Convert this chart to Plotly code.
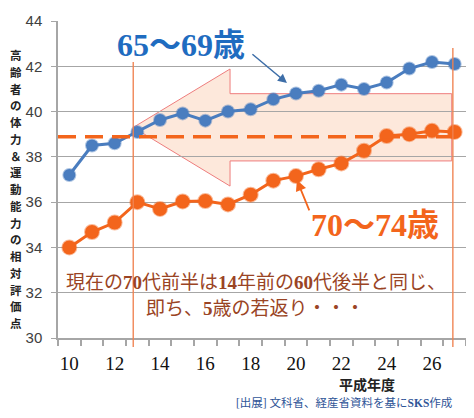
import plotly.graph_objects as go

years = list(range(10, 28))
tick_years = [10, 12, 14, 16, 18, 20, 22, 24, 26]
age_65_69 = [37.2, 38.5, 38.6, 39.1, 39.63, 39.92, 39.6, 40.0, 40.1, 40.54,
             40.8, 40.92, 41.19, 41.0, 41.28, 41.9, 42.19, 42.1]
age_70_74 = [34.0, 34.68, 35.1, 36.0, 35.7, 36.03, 36.05, 35.9, 36.33, 36.95,
             37.15, 37.45, 37.71, 38.27, 38.92, 39.0, 39.15, 39.1]
reference_level = 38.89
y_title = "高齢者の体力＆運動能力の相対評価点"

BLUE = "#4a7dbf"
ORANGE = "#f3651c"
BROWN = "#9a4424"

fig = go.Figure()

fig.add_trace(go.Scatter(
    x=years, y=age_65_69, mode="lines+markers",
    line=dict(color=BLUE, width=3),
    marker=dict(size=12, color=BLUE, line=dict(color="rgba(74,125,191,0.45)", width=2)),
    showlegend=False, hoverinfo="skip"))
fig.add_trace(go.Scatter(
    x=years, y=age_70_74, mode="lines+markers",
    line=dict(color=ORANGE, width=3),
    marker=dict(size=14, color=ORANGE, line=dict(color="rgba(243,101,28,0.45)", width=2)),
    showlegend=False, hoverinfo="skip"))

shapes = [
    dict(type="path", xref="x", yref="y", layer="below",
         path="M 26.87,40.79 L 17.09,40.79 L 17.09,41.88 L 12.82,39.30 "
              "L 17.09,36.71 L 17.09,37.82 L 26.87,37.82 Z",
         fillcolor="rgba(251,214,190,0.55)", line=dict(color="#ee7d7d", width=1)),
    dict(type="line", xref="x", yref="y", x0=9.5, x1=27.0,
         y0=reference_level, y1=reference_level,
         line=dict(color=ORANGE, width=3.5, dash="18px,9px")),
    dict(type="line", xref="x", yref="paper", x0=12.82, x1=12.82, y0=-0.028, y1=0.871,
         line=dict(color="rgba(240,130,80,0.9)", width=1.5)),
    dict(type="line", xref="x", yref="paper", x0=26.92, x1=26.92, y0=-0.028, y1=0.915,
         line=dict(color="rgba(240,130,80,0.9)", width=1.5)),
]

serif_num = lambda s: f"<span style='font-family:Liberation Serif'><b>{s}</b></span>"

annotations = [
    dict(x=14.93, y=42.94, xref="x", yref="y", showarrow=False,
         text="<b>65～69歳</b>",
         font=dict(family="Liberation Serif, Noto Sans CJK JP", size=32, color="#1f6cc0")),
    dict(x=19.6, y=41.26, xref="x", yref="y", ax=-36, ay=-30, text="",
         showarrow=True, arrowhead=2, arrowsize=1.2, arrowwidth=1.5, arrowcolor="#3d6ea8"),
    dict(x=23.48, y=34.99, xref="x", yref="y", showarrow=False,
         text="<b>70～74歳</b>",
         font=dict(family="Liberation Serif, Noto Sans CJK JP", size=32, color=ORANGE)),
    dict(x=20.04, y=36.98, xref="x", yref="y", ax=13, ay=32, text="",
         showarrow=True, arrowhead=2, arrowsize=1.2, arrowwidth=1.8, arrowcolor=ORANGE),
    dict(x=18.24, y=32.56, xref="x", yref="y", showarrow=False,
         text="現在の" + serif_num("70") + "代前半は" + serif_num("14") + "年前の"
              + serif_num("60") + "代後半と同じ、",
         font=dict(family="Noto Sans CJK JP", size=19, color=BROWN)),
    dict(x=18.2, y=31.37, xref="x", yref="y", showarrow=False,
         text="即ち、" + serif_num("5") + "歳の若返り・・・",
         font=dict(family="Noto Sans CJK JP", size=19, color=BROWN)),
    dict(x=0.757, y=-0.146, xref="paper", yref="paper", showarrow=False,
         xanchor="center", yanchor="middle",
         text="<b>平成年度</b>",
         font=dict(family="Noto Sans CJK JP", size=14, color="#222222")),
    dict(x=0.703, y=-0.204, xref="paper", yref="paper", showarrow=False,
         xanchor="center", yanchor="middle",
         text="[出展] 文科省、経産省資料を基に<b>SKS</b>作成",
         font=dict(family="Liberation Serif, Noto Sans CJK JP", size=11.5, color="#2f5597")),
]

# vertical (stacked) axis title, one character per line
top, step = 0.8927, 0.05284
for i, ch in enumerate(y_title):
    annotations.append(dict(
        x=-0.103, y=top - i * step, xref="paper", yref="paper", showarrow=False,
        xanchor="center", yanchor="middle", borderpad=0,
        text=f"<b>{ch}</b>",
        font=dict(family="Noto Sans CJK JP", size=11.5, color="#222222")))

fig.update_layout(
    width=466, height=410,
    margin=dict(l=50, r=8, t=13, b=80, autoexpand=False),
    paper_bgcolor="white", plot_bgcolor="white",
    shapes=shapes, annotations=annotations,
    xaxis=dict(range=[9.5, 27.5], tickmode="array", tickvals=tick_years,
               ticks="", showgrid=False, zeroline=False, automargin=False,
               showline=True, linecolor="#a6a6a6", linewidth=1.5,
               tickfont=dict(family="Liberation Serif", size=19, color="#111111"),
               ticklabelstandoff=7,
               minor=dict(tickmode="array", tickvals=[y - 0.5 for y in years] + [27.5],
                          ticks="outside", ticklen=6, tickcolor="#a6a6a6", tickwidth=1.5,
                          showgrid=False)),
    yaxis=dict(range=[30, 44], dtick=2, tick0=30, ticks="outside", ticklen=5,
               tickcolor="#a6a6a6", showline=True, linecolor="#a6a6a6", linewidth=1.5,
               showgrid=True, gridcolor="#a6a6a6", gridwidth=1.2, zeroline=False,
               automargin=False,
               tickfont=dict(family="Liberation Sans", size=15, color="#404040"),
               ticklabelstandoff=6),
)

fig.write_html("out.html")
